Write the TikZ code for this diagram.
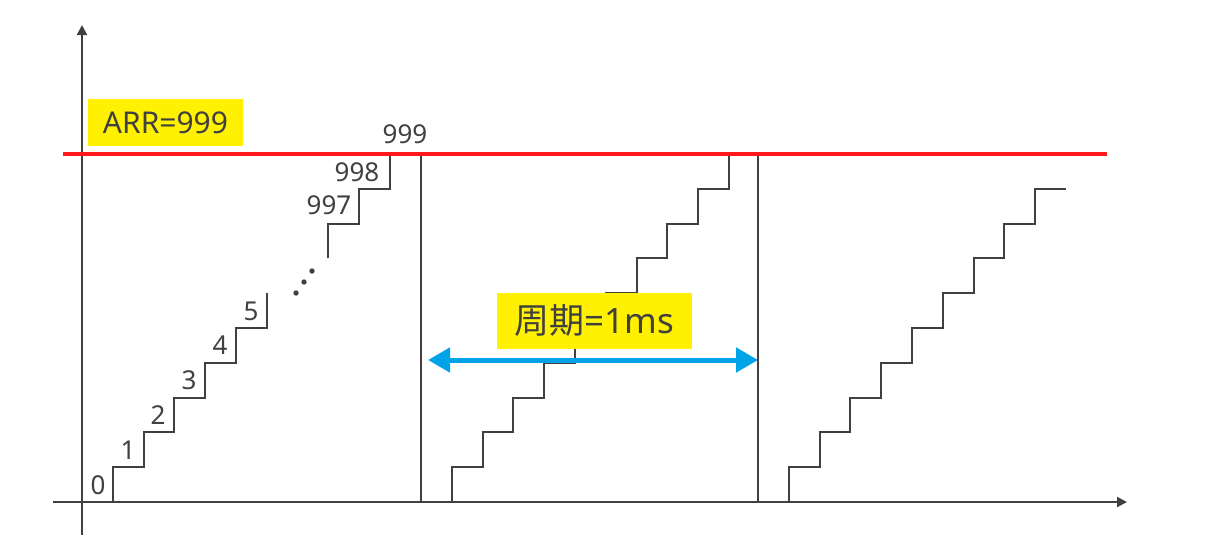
\documentclass[tikz,border=0pt]{standalone}
\usepackage{fontspec}
\setmainfont{Noto Sans}
\newfontfamily\cjk{Noto Sans CJK SC}
\usetikzlibrary{arrows.meta}
\definecolor{ink}{HTML}{404040}
\definecolor{hl}{HTML}{FFF100}
\definecolor{arr}{HTML}{FF1A1A}
\definecolor{per}{HTML}{00A2E8}
\tikzset{
  axis/.style={draw=ink, line width=2pt, -{Triangle[length=10pt,width=10pt]}},
  stair/.style={draw=ink, line width=2.1pt},
  sep/.style={draw=ink, line width=2.1pt},
  lbl/.style={text=ink, font=\fontsize{26}{26}\selectfont, inner sep=0pt},
  hlbox/.style={fill=hl, text=ink, inner sep=0pt},
}
\begin{document}
\begin{tikzpicture}[x=1pt,y=-1pt]
\useasboundingbox (0,0) rectangle (1206,539);
\fill[white] (0,0) rectangle (1206,539);
\def\w{30.8}
\def\h{34.8}
% axes
\coordinate (ybot) at (82,535);
\coordinate (ytop) at (82,25);
\coordinate (xl) at (53,502);
\coordinate (xr) at (1127,502);
\draw[axis] (ybot) -- (ytop);
\draw[axis] (xl) -- (xr);
% separators
\coordinate (s1t) at (421,154); \coordinate (s1b) at (421,502);
\coordinate (s2t) at (758,154); \coordinate (s2b) at (758,502);
\draw[sep] (s1t) -- (s1b);
\draw[sep] (s2t) -- (s2b);
% staircase 1 (lower part)
\draw[stair] (82,502)
  \foreach \k in {1,...,6} { -- ({82+\k*\w},{502-(\k-1)*\h}) -- ({82+\k*\w},{502-\k*\h}) };
% staircase 1 (upper part)
\draw[stair] ({82+8*\w},{502-7*\h}) -- ({82+8*\w},{502-8*\h})
  \foreach \k in {9,10} { -- ({82+\k*\w},{502-(\k-1)*\h}) -- ({82+\k*\w},{502-\k*\h}) };
% staircase 2
\draw[stair] (421,502)
  \foreach \k in {1,...,10} { -- ({421+\k*\w},{502-(\k-1)*\h}) -- ({421+\k*\w},{502-\k*\h}) };
% staircase 3
\draw[stair] (758,502)
  \foreach \k in {1,...,9} { -- ({758+\k*\w},{502-(\k-1)*\h}) -- ({758+\k*\w},{502-\k*\h}) }
  -- ({758+10*\w},{502-9*\h});
% ARR line
\coordinate (rl) at (63,154);
\coordinate (rr) at (1107,154);
\draw[arr, line width=4.5pt] (rl) -- (rr);
% labels
\node[lbl] (l0) at (98,485) {0};
\node[lbl] (l1) at (128,450) {1};
\node[lbl] (l2) at (158,415) {2};
\node[lbl] (l3) at (189,380) {3};
\node[lbl] (l4) at (220,345) {4};
\node[lbl] (l5) at (251,311) {5};
\node[lbl] (l997) at (329,205) {997};
\node[lbl] (l998) at (357,172) {998};
\node[lbl] (l999) at (405,134) {999};
% dots
\fill[ink] (296,293) circle (2.7pt);
\fill[ink] (304,282) circle (2.7pt);
\fill[ink] (312,271) circle (2.7pt);
% ARR box
\node[hlbox, minimum width=155pt, minimum height=47pt, font=\fontsize{30}{30}\selectfont] (arrbox) at (165.5,122.5) {ARR=999};
% period box
\node[hlbox, minimum width=195pt, minimum height=56pt, font=\fontsize{35}{35}\selectfont] (perbox) at (594.5,321) {{\cjk 周期}=1ms};
% period arrow
\coordinate (pl) at (428,360);
\coordinate (pr) at (758,360);
\draw[per, line width=5pt, {Triangle[length=22pt,width=24pt]}-{Triangle[length=22pt,width=24pt]}] (pl) -- (pr);
\end{tikzpicture}
\end{document}
